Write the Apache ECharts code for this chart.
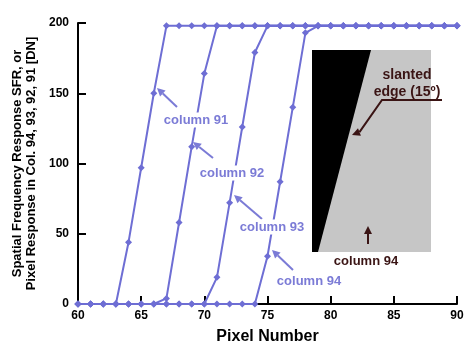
<!DOCTYPE html>
<html>
<head>
<meta charset="utf-8">
<script src="https://cdn.jsdelivr.net/npm/echarts@6/dist/echarts.min.js"></script>
<style>
  html, body { margin: 0; padding: 0; background: #fff; }
  #chart { width: 474px; height: 352px; }
</style>
</head>
<body>
<div id="chart"></div>
<script>
// pixel numbers on the x axis
const pixelNumbers = [60, 61, 62, 63, 64, 65, 66, 67, 68, 69, 70, 71, 72, 73, 74, 75,
  76, 77, 78, 79, 80, 81, 82, 83, 84, 85, 86, 87, 88, 89, 90];

// pixel response per column [DN]
const col91 = [0, 0, 0, 0, 44, 97, 150, 198, 198, 198, 198, 198, 198, 198, 198, 198,
  198, 198, 198, 198, 198, 198, 198, 198, 198, 198, 198, 198, 198, 198, 198];
const col92 = [0, 0, 0, 0, 0, 0, 0, 4, 58, 112, 164, 198, 198, 198, 198, 198,
  198, 198, 198, 198, 198, 198, 198, 198, 198, 198, 198, 198, 198, 198, 198];
const col93 = [0, 0, 0, 0, 0, 0, 0, 0, 0, 0, 0, 19, 72, 126, 179, 198,
  198, 198, 198, 198, 198, 198, 198, 198, 198, 198, 198, 198, 198, 198, 198];
const col94 = [0, 0, 0, 0, 0, 0, 0, 0, 0, 0, 0, 0, 0, 0, 0, 34,
  87, 140, 193, 198, 198, 198, 198, 198, 198, 198, 198, 198, 198, 198, 198];

const seriesNames = ['column 91', 'column 92', 'column 93', 'column 94'];
const seriesValues = [col91, col92, col93, col94];

const lineColor = '#6e6ed4';
const labelColor = '#7b7bd6';
const darkColor = '#3a1414';
const font = 'Liberation Sans, Arial, sans-serif';

const chart = echarts.init(document.getElementById('chart'));

// 箭头：线段 + 三角形箭头
function arrow(x1, y1, x2, y2, color, pts) {
  const ang = Math.atan2(y2 - y1, x2 - x1);
  const len = 8, wid = 4;
  const bx = x2 - len * Math.cos(ang), by = y2 - len * Math.sin(ang);
  const nx = -Math.sin(ang) * wid, ny = Math.cos(ang) * wid;
  const linePts = (pts || [[x1, y1]]).concat([[bx, by]]);
  return [
    { type: 'polyline', z: 100, shape: { points: linePts },
      style: { stroke: color, lineWidth: 2, fill: null } },
    { type: 'polygon', z: 100, shape: { points: [[x2, y2], [bx + nx, by + ny], [bx - nx, by - ny]] },
      style: { fill: color } }
  ];
}

function label(text, cx, cy, color) {
  return {
    type: 'text', z: 101, x: cx, y: cy,
    style: {
      text: text, fill: color, font: 'bold 13px ' + font,
      align: 'center', verticalAlign: 'middle',
      backgroundColor: '#fff', padding: [1, 2]
    }
  };
}

const graphics = [
  // inset: slanted edge
  { type: 'rect', z: 90, shape: { x: 312, y: 50, width: 119, height: 202 }, style: { fill: '#c6c6c6' } },
  { type: 'polygon', z: 91, shape: { points: [[312, 50], [371, 50], [318, 252], [312, 252]] }, style: { fill: '#000' } },
  { type: 'text', z: 101, x: 407, y: 84,
    style: { text: 'slanted\nedge (15º)', fill: darkColor, font: 'bold 14px ' + font,
      align: 'center', verticalAlign: 'middle', lineHeight: 17 } },
  { type: 'text', z: 101, x: 366, y: 261,
    style: { text: 'column 94', fill: darkColor, font: 'bold 13px ' + font,
      align: 'center', verticalAlign: 'middle' } }
]
  .concat(arrow(442, 100, 352, 135, darkColor, [[442, 100], [382, 100]]))
  .concat(arrow(368, 244, 368, 226, darkColor))
  .concat(arrow(177, 107, 157, 88, labelColor))
  .concat(arrow(213, 158, 193, 142, labelColor))
  .concat(arrow(262, 219, 234, 195, labelColor))
  .concat(arrow(293, 270, 272, 250, labelColor))
  .concat([
    label('column 91', 196, 120, labelColor),
    label('column 92', 232, 173, labelColor),
    label('column 93', 272, 227, labelColor),
    label('column 94', 309, 281, labelColor)
  ]);

const option = {
  animation: false,
  grid: { left: 78, right: 17, top: 23, bottom: 48 },
  xAxis: {
    type: 'value', min: 60, max: 90, interval: 5,
    name: 'Pixel Number', nameLocation: 'middle', nameGap: 25,
    nameTextStyle: { color: '#000', fontSize: 16, fontWeight: 'bold', fontFamily: font },
    axisLine: { lineStyle: { color: '#000', width: 2 } },
    axisTick: { inside: true, length: 8, lineStyle: { color: '#000', width: 2 } },
    axisLabel: { color: '#000', fontSize: 12, fontWeight: 'bold', fontFamily: font, margin: 6 },
    splitLine: { show: false }
  },
  yAxis: {
    type: 'value', min: 0, max: 200, interval: 50,
    name: 'Spatial Frequency Response SFR, or\nPixel Response in Col. 94, 93, 92, 91 [DN]',
    nameLocation: 'middle', nameGap: 38, nameRotate: 90,
    nameTextStyle: { color: '#000', fontSize: 13, fontWeight: 'bold', fontFamily: font, lineHeight: 14 },
    axisLine: { show: true, lineStyle: { color: '#000', width: 2 } },
    axisTick: { show: true, inside: true, length: 8, lineStyle: { color: '#000', width: 2 } },
    axisLabel: { color: '#000', fontSize: 12, fontWeight: 'bold', fontFamily: font, margin: 9 },
    splitLine: { show: false }
  },
  series: seriesValues.map((vals, i) => ({
    name: seriesNames[i],
    type: 'line',
    data: pixelNumbers.map((x, j) => [x, vals[j]]),
    symbol: 'diamond',
    symbolSize: 7,
    lineStyle: { color: lineColor, width: 2 },
    itemStyle: { color: lineColor },
    z: 2
  })),
  graphic: graphics
};

chart.setOption(option);
</script>
</body>
</html>
